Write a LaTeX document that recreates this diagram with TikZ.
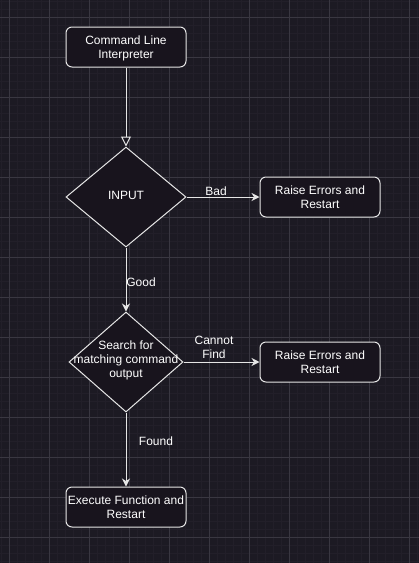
\documentclass[tikz,border=0pt]{standalone}
\usepackage{fontspec}
\setmainfont{Liberation Sans}
\usetikzlibrary{arrows.meta,shapes.geometric}

\definecolor{bgcol}{HTML}{1C1A23}
\definecolor{minorcol}{HTML}{221F29}
\definecolor{majorcol}{HTML}{393741}
\definecolor{nodecol}{HTML}{18141D}
\definecolor{linecol}{HTML}{E6E6E6}

\begin{document}
\begin{tikzpicture}[x=1pt,y=-1pt,
    box/.style={draw=linecol, fill=nodecol, rounded corners=6pt, line width=1pt,
        minimum width=120pt, minimum height=40pt, inner sep=0pt, text depth=0pt,
        align=center, text=white, font=\fontsize{12}{14}\selectfont},
    decision/.style={diamond, draw=linecol, fill=nodecol, line width=1pt,
        inner sep=0pt, minimum height=100pt},
    txt/.style={text=white, align=center, inner sep=0pt, font=\fontsize{12}{14}\selectfont},
    flow/.style={draw=linecol, line width=1pt, -{Stealth[length=8pt,width=8pt,inset=2.5pt]}}
]

    % background and grid
    \useasboundingbox (0,0) rectangle (419,563);
    \fill[bgcol] (0,0) rectangle (419,563);
    \foreach \x in {1,9,...,417} \draw[minorcol, line width=0.5pt] (\x,0) -- (\x,563);
    \foreach \y in {1,9,...,561} \draw[minorcol, line width=0.5pt] (0,\y) -- (419,\y);
    \foreach \x in {9,49,...,409} \draw[majorcol, line width=0.8pt] (\x,0) -- (\x,563);
    \foreach \y in {17,57,...,537} \draw[majorcol, line width=0.8pt] (0,\y) -- (419,\y);

    % nodes (steps)
    \node[box] (cli) at (126,47) {Command Line\\Interpreter};
    \node[decision, minimum width=120pt] (input) at (126,197) {};
    \node[txt] (inputtxt) at (126,195) {INPUT};
    \node[box] (errbad) at (320,197) {Raise Errors and\\Restart};
    \node[decision, minimum width=114pt] (search) at (126,362) {};
    \node[txt] (searchtxt) at (126,360) {Search for\\matching command\\output};
    \node[box] (errfind) at (320,362) {Raise Errors and\\Restart};
    \node[box] (exec) at (126,507) {Execute Function and\\Restart};

    % edge labels
    \node[txt] (badlbl) at (216,191) {Bad};
    \node[txt] (goodlbl) at (141,282) {Good};
    \node[txt] (findlbl) at (214,347) {Cannot\\Find};
    \node[txt] (foundlbl) at (156,441) {Found};

    % edges
    \draw[draw=linecol, line width=1pt, -{Triangle[open,length=10pt,width=10pt]}] (cli.south) -- (input.north); % cli -> input
    \draw[flow] (input.east) -- (errbad.west); % input -> bad
    \draw[flow] (input.south) -- (search.north); % input -> search
    \draw[flow] (search.east) -- (errfind.west); % search -> cannot find
    \draw[flow] (search.south) -- (exec.north); % search -> exec

\end{tikzpicture}
\end{document}
